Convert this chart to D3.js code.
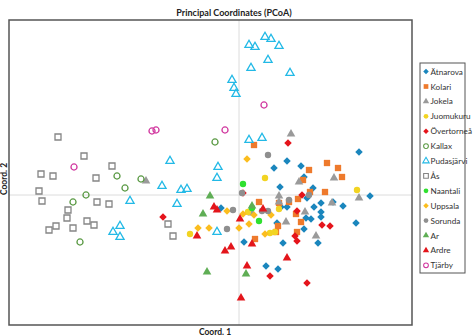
<!DOCTYPE html>
<html><head><meta charset="utf-8">
<script src="https://cdn.jsdelivr.net/npm/d3@7"></script>
<style>
html,body{margin:0;padding:0;background:#fff;}
svg{display:block;font-family:Lato,"Open Sans",sans-serif;}
</style></head>
<body><svg id="c" width="474" height="336"></svg>
<script>
// Axis labels / title
const title = "Principal Coordinates (PCoA)";
const xLabel = "Coord. 1";
const yLabel = "Coord. 2";

// Populations (legend order)
const populations = ["Ätnarova","Kolari","Jokela","Juomukuru","Övertorneå","Kallax","Pudasjärvi","Ås","Naantali","Uppsala","Sorunda","Ar","Ardre","Tjärby"];

// Coordinates [Coord.1, Coord.2] per population
const atnarova = [[1.20,0.43],[0.48,0.34],[0.62,0.29],[0.35,0.27],[0.41,0.08],[0.65,0.18],[0.74,0.07],[1.31,-0.01],[0.68,-0.03],[0.82,-0.08],[0.94,-0.07],[1.04,-0.11],[0.75,-0.12],[0.82,-0.17],[0.67,-0.23],[0.72,-0.24],[0.82,-0.22],[1.17,-0.28],[0.38,-0.28],[0.65,-0.34],[0.79,-0.48],[0.05,-0.47],[0.44,-0.48],[0.27,-0.71],[0.39,-0.74],[-0.18,-0.13],[0.42,-0.12],[0.48,-0.12]];
const kolari = [[0.15,0.50],[0.88,0.32],[0.99,0.27],[0.70,0.25],[1.03,0.18],[0.64,0.15],[0.71,0.03],[0.86,0.03],[0.20,-0.07],[0.59,-0.04],[0.40,-0.08],[0.50,-0.07],[0.57,-0.19],[0.62,-0.27],[0.39,-0.31],[0.37,-0.37],[0.58,-0.37],[0.16,-0.44]];
const jokela = [[0.52,0.62],[-0.93,0.15],[0.95,0.18],[0.60,0.14],[1.20,-0.02],[0.40,0.00],[0.40,-0.06],[0.66,-0.16],[0.47,-0.26],[0.93,-0.07],[0.77,-0.40],[0.13,-0.17]];
const juomukuru = [[0.26,0.17],[1.18,0.05],[0.31,-0.38],[0.09,-0.17],[0.40,-0.14],[-0.49,-0.39],[0.36,-0.37]];
const overtornea = [[0.49,0.52],[-0.76,-0.22],[0.04,0.02],[0.63,0.00],[0.58,-0.16],[0.83,-0.30],[0.91,-0.31],[0.56,-0.41],[0.58,-0.46],[0.31,-0.81],[0.68,-0.88]];
const kallax = [[-0.24,0.53],[-1.22,0.19],[-1.14,0.07],[-0.98,0.16],[-1.53,0.00],[-1.66,-0.07],[-1.59,-0.47]];
const pudasjarvi = [[0.26,1.59],[0.32,1.57],[0.10,1.51],[0.16,1.49],[0.40,1.50],[0.29,1.36],[0.12,1.28],[0.51,1.23],[-0.07,1.16],[-0.05,1.08],[-0.03,1.02],[0.10,0.56],[0.23,0.58],[-0.69,0.35],[-0.21,0.29],[-0.22,0.18],[-0.77,0.10],[-0.58,0.06],[-0.52,0.07],[-1.09,-0.05],[-0.62,-0.08],[-1.19,-0.30],[-1.26,-0.36],[-1.19,-0.41],[-0.22,-0.36]];
const as = [[-1.81,0.58],[-1.55,0.39],[-1.27,0.29],[-1.98,0.21],[-1.86,0.19],[-1.43,0.17],[-2.00,0.04],[-1.97,-0.06],[-1.42,-0.07],[-1.30,-0.09],[-1.71,-0.15],[-1.72,-0.23],[-1.52,-0.26],[-1.45,-0.30],[-1.83,-0.31],[-1.90,-0.35],[-1.66,-0.33],[-0.71,-0.29],[-0.66,-0.41]];
const naantali = [[0.04,0.11],[0.13,-0.13],[0.20,-0.26]];
const uppsala = [[0.08,0.36],[-0.41,-0.33],[-0.30,-0.33],[-0.12,-0.16],[0.00,-0.33],[0.10,-0.29],[0.04,-0.19],[0.32,-0.20],[0.26,-0.39],[0.15,-0.20]];
const sorunda = [[0.29,0.40],[0.03,0.02],[-0.06,-0.15],[-0.12,-0.34],[0.50,-0.05],[0.23,-0.16],[0.29,-0.16],[0.70,0.00]];
const ar = [[-0.29,0.00],[-0.36,-0.18],[-0.32,-0.76],[0.07,-0.78],[0.13,-0.10]];
const ardre = [[-0.42,-0.40],[-0.25,-0.11],[-0.22,-0.14],[0.24,-0.13],[0.01,-0.23],[0.13,-0.48],[-0.14,-0.55],[-0.08,-0.51],[0.48,-0.62],[0.08,-0.70],[0.02,-1.02]];
const tjarby = [[-1.65,0.28],[-0.87,0.64],[-0.83,0.65],[-0.14,0.65],[0.25,0.90]];

const seriesData = [atnarova,kolari,jokela,juomukuru,overtornea,kallax,pudasjarvi,as,naantali,uppsala,sorunda,ar,ardre,tjarby];

// Styles
const styles = [
  {shape:"diamond", fill:"#1a86bd", stroke:null},
  {shape:"square", fill:"#ee7a2c", stroke:null},
  {shape:"triangle", fill:"#9a9a9a", stroke:null},
  {shape:"circle", fill:"#f2d422", stroke:null},
  {shape:"diamond", fill:"#e5141b", stroke:null},
  {shape:"circle", fill:"none", stroke:"#5b9a45"},
  {shape:"triangle", fill:"none", stroke:"#22b9e6"},
  {shape:"square", fill:"none", stroke:"#858585"},
  {shape:"circle", fill:"#2fe02f", stroke:null},
  {shape:"diamond", fill:"#fbbd1e", stroke:null},
  {shape:"circle", fill:"#8f8f8f", stroke:null},
  {shape:"triangle", fill:"#5fae55", stroke:null},
  {shape:"triangle", fill:"#e3151b", stroke:null},
  {shape:"circle", fill:"none", stroke:"#d1389f"}
];

const svg = d3.select("#c");
const L = 9, R = 412, T = 20, B = 325;
const x = d3.scaleLinear().domain([-2.30, 1.73]).range([L, R]);
const y = d3.scaleLinear().domain([-1.30, 1.75]).range([B, T]);

function symPath(shape, k){
  const sizes = {diamond:28, square:40, triangle:32, circle:32};
  const types = {diamond:d3.symbolSquare, square:d3.symbolSquare, triangle:d3.symbolTriangle, circle:d3.symbolCircle};
  return d3.symbol().type(types[shape]).size(sizes[shape]*k)();
}

// zero lines
svg.append("line").attr("x1",x(0)).attr("x2",x(0)).attr("y1",T).attr("y2",B)
  .attr("stroke","#dcdcdc").attr("stroke-width",1);
svg.append("line").attr("x1",L).attr("x2",R).attr("y1",y(0)).attr("y2",y(0))
  .attr("stroke","#dcdcdc").attr("stroke-width",1);

// points
seriesData.forEach((pts,i)=>{
  const st = styles[i];
  const g = svg.append("g");
  g.selectAll("path").data(pts).join("path")
    .attr("d", symPath(st.shape, st.stroke ? 0.9 : 1))
    .attr("transform", d=>`translate(${x(d[0])},${y(d[1])})` + (st.shape==="diamond"?" rotate(45)":"") + (st.shape==="triangle"?" translate(0,1)":""))
    .attr("fill", st.fill)
    .attr("stroke", st.stroke || "none")
    .attr("stroke-width", st.stroke ? 1.3 : 0);
});

// frame
svg.append("rect").attr("x",L).attr("y",T).attr("width",R-L).attr("height",B-T)
  .attr("fill","none").attr("stroke","#555").attr("stroke-width",1.5);

// title & labels
svg.append("text").attr("x",234).attr("y",16).attr("text-anchor","middle")
  .attr("font-size",9).attr("font-weight","bold").attr("fill","#222").text(title);
svg.append("text").attr("x",215).attr("y",335).attr("text-anchor","middle")
  .attr("font-size",8.5).attr("font-weight","bold").attr("fill","#222").text(xLabel);
svg.append("text").attr("transform","translate(7,179) rotate(-90)").attr("text-anchor","middle")
  .attr("font-size",8.5).attr("font-weight","bold").attr("fill","#222").text(yLabel);

// legend
const lg = svg.append("g");
const ly0 = 71.6, lstep = 14.9;
lg.append("rect").attr("x",420).attr("y",63).attr("width",45).attr("height",210)
  .attr("fill","#fff").attr("stroke","#555").attr("stroke-width",1);
populations.forEach((p,i)=>{
  const st = styles[i];
  const yy = ly0 + i*lstep;
  lg.append("path").attr("d", symPath(st.shape, 0.55))
    .attr("transform", `translate(426,${yy})` + (st.shape==="diamond"?" rotate(45)":""))
    .attr("fill", st.fill).attr("stroke", st.stroke || "none").attr("stroke-width", st.stroke?1.1:0);
  lg.append("text").attr("x",430.5).attr("y",yy+3).attr("font-size",8.2).attr("fill","#333").text(p);
});
</script></body></html>
